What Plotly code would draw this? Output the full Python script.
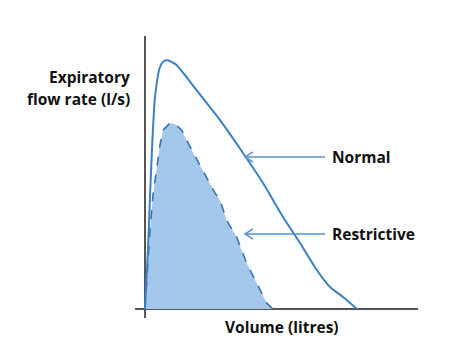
import plotly.graph_objects as go

# Normal flow-volume curve (volume in litres, flow in l/s)
normal_volume = [0.0, 0.03, 0.075, 0.125, 0.175, 0.25, 0.375, 0.475, 0.57, 0.675, 0.79,
                 1.29, 1.875, 2.45, 2.95, 3.45, 3.875, 4.3, 4.625, 4.95, 5.3]
normal_flow = [0.0, 0.6, 1.5, 2.8, 4.0, 5.3, 6.05, 6.2, 6.22, 6.17, 6.1,
               5.47, 4.72, 3.9, 3.15, 2.3, 1.65, 0.97, 0.55, 0.3, 0.0]

# Restrictive flow-volume curve
restrictive_volume = [0.0, 0.05, 0.125, 0.2, 0.29, 0.375, 0.45, 0.625, 0.75, 0.92, 1.17,
                      1.45, 1.75, 1.875, 2.04, 2.29, 2.54, 2.79, 3.04, 3.2]
restrictive_flow = [0.0, 0.8, 1.97, 2.85, 3.47, 4.1, 4.47, 4.65, 4.62, 4.47, 3.97,
                    3.47, 2.9, 2.72, 2.22, 1.8, 1.15, 0.65, 0.15, 0.0]

# Callout labels
label_text = ["Normal", "Restrictive"]
label_y = [3.8, 1.875]
arrow_tip_x = 2.5
arrow_tail_x = 4.5
label_x = 4.63

y_title_lines = ["Expiratory", "flow rate (l/s)"]
x_title = "Volume (litres)"

fig = go.Figure()

fig.add_trace(go.Scatter(
    x=restrictive_volume, y=restrictive_flow, mode="lines",
    line=dict(color="#3f70aa", width=1.6, dash="dash"),
    fill="tozeroy", fillcolor="#a3c8eb", hoverinfo="skip"))

fig.add_trace(go.Scatter(
    x=normal_volume, y=normal_flow, mode="lines",
    line=dict(color="#3a80c8", width=2, shape="spline", smoothing=0.6),
    hoverinfo="skip"))

arrow_color = "#5a8fd0"
text_font = dict(family="Open Sans", size=15.5, color="#111111")
for txt, yy in zip(label_text, label_y):
    fig.add_trace(go.Scatter(x=[arrow_tip_x, arrow_tail_x], y=[yy, yy], mode="lines",
                             line=dict(color=arrow_color, width=1.5), hoverinfo="skip"))
    fig.add_trace(go.Scatter(x=[arrow_tip_x + 0.2, arrow_tip_x, arrow_tip_x + 0.2],
                             y=[yy + 0.13, yy, yy - 0.13], mode="lines",
                             line=dict(color=arrow_color, width=1.5), hoverinfo="skip"))
    fig.add_annotation(x=label_x, y=yy, text="<b>" + txt + "</b>", showarrow=False,
                       xanchor="left", yanchor="middle", font=text_font)

# Axis titles (paper coordinates)
for txt, py in zip(y_title_lines, [0.855, 0.777]):
    fig.add_annotation(xref="paper", yref="paper", x=-0.012, y=py,
                       text="<b>" + txt + "</b>", showarrow=False,
                       xanchor="right", yanchor="middle", font=text_font)
fig.add_annotation(xref="paper", yref="paper", x=0.519, y=-0.032,
                   text="<b>" + x_title + "</b>", showarrow=False,
                   xanchor="center", yanchor="middle", font=text_font)

fig.update_layout(
    width=474, height=357,
    margin=dict(l=127, r=64, t=28, b=47),
    paper_bgcolor="white", plot_bgcolor="white",
    showlegend=False,
    xaxis=dict(range=[-0.25, 6.825], showgrid=False, showticklabels=False, ticks="",
               zeroline=True, zerolinecolor="#555555", zerolinewidth=1.5, showline=False),
    yaxis=dict(range=[-0.225, 6.825], showgrid=False, showticklabels=False, ticks="",
               zeroline=True, zerolinecolor="#555555", zerolinewidth=1.5, showline=False),
)

fig.write_html("out.html")
